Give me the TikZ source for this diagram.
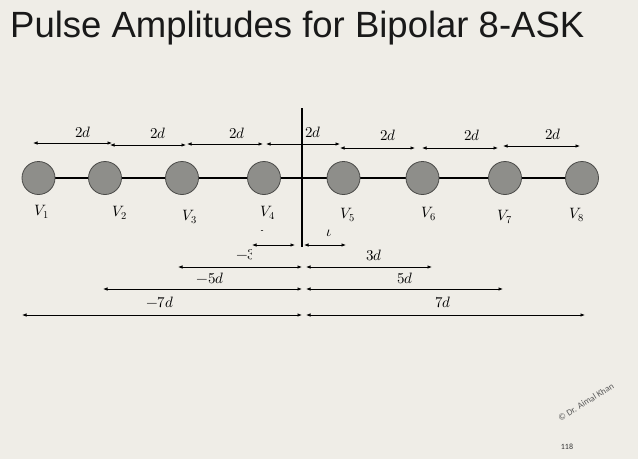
\documentclass[tikz,border=0pt]{standalone}
\usepackage{fontspec}
\setmainfont{Liberation Sans}
\newfontfamily\calib{Carlito}
\usepackage{unicode-math}
\usetikzlibrary{arrows.meta}
\definecolor{bgc}{HTML}{EFEDE7}
\definecolor{dotfill}{HTML}{8E8E8A}
\definecolor{dotline}{HTML}{4A4A48}
\tikzset{
  dot/.style={circle,fill=dotfill,draw=dotline,line width=0.8pt,minimum size=33pt,inner sep=0pt},
  dim/.style={line width=0.7pt,{Latex[length=4.5pt,width=3.5pt]}-{Latex[length=4.5pt,width=3.5pt]}},
  lab/.style={font=\fontsize{15}{17}\selectfont,inner sep=0pt},
}
\begin{document}
\begin{tikzpicture}[x=1pt,y=-1pt]
\fill[bgc] (0,0) rectangle (638,459);
\useasboundingbox (0,0) rectangle (638,459);
% title
\node[anchor=base west,inner sep=0pt,font=\fontsize{36.5}{40}\selectfont,text=black!90] (title) at (10,37) {Pulse Amplitudes for Bipolar 8-ASK};
% axis
\coordinate (axt) at (302,108);
\coordinate (axb) at (302,247);
% baseline
\coordinate (ls) at (38.5,178);
\coordinate (le) at (582,178);
\draw[line width=2.2pt] (ls) -- (le);
\draw[line width=2.2pt] (axt) -- (axb);
% dots
\foreach \n/\x in {1/38.5,2/105,3/182,4/264,5/343.5,6/422.5,7/505,8/582}{
  \node[dot] (v\n) at (\x,178) {};
}
% V labels
\node[lab] (l1) at (42,212) {$V_1$};
\node[lab] (l2) at (120,213) {$V_2$};
\node[lab] (l3) at (190,217) {$V_3$};
\node[lab] (l4) at (268,213) {$V_4$};
\node[lab] (l5) at (348,215) {$V_5$};
\node[lab] (l6) at (429,214) {$V_6$};
\node[lab] (l7) at (505,217) {$V_7$};
\node[lab] (l8) at (577,215) {$V_8$};
% top dimension arrows
\coordinate (t1a) at (33,143);  \coordinate (t1b) at (112,143);
\coordinate (t2a) at (110,145); \coordinate (t2b) at (186,145);
\coordinate (t3a) at (187,144); \coordinate (t3b) at (263,144);
\coordinate (t4a) at (266,144); \coordinate (t4b) at (340,144);
\coordinate (t5a) at (340,148); \coordinate (t5b) at (415,148);
\coordinate (t6a) at (422,148); \coordinate (t6b) at (498,148);
\coordinate (t7a) at (503,146); \coordinate (t7b) at (580,146);
\foreach \i in {1,...,7}{ \draw[dim] (t\i a) -- (t\i b); }
\node[lab] (d1) at (83,132) {$2d$};
\node[lab] (d2) at (158,133) {$2d$};
\node[lab] (d3) at (237,133) {$2d$};
\node[lab] (d4) at (313,132) {$2d$};
\node[lab] (d5) at (388,135) {$2d$};
\node[lab] (d6) at (472,135) {$2d$};
\node[lab] (d7) at (553,134) {$2d$};
% bottom arrows
\coordinate (c1) at (295,245); \coordinate (s1l) at (252,245);
\coordinate (c2) at (304,245); \coordinate (s1r) at (346,245);
\draw[dim] (s1l) -- (c1);
\draw[dim] (c2) -- (s1r);
\coordinate (b3l) at (178,267); \coordinate (b3c) at (302,267);
\coordinate (b3d) at (306,267); \coordinate (b3r) at (432,267);
\draw[dim] (b3l) -- (b3c); \draw[dim] (b3d) -- (b3r);
\coordinate (b5l) at (103,289); \coordinate (b5c) at (302,289);
\coordinate (b5d) at (306,289); \coordinate (b5r) at (503,289);
\draw[dim] (b5l) -- (b5c); \draw[dim] (b5d) -- (b5r);
\coordinate (b7l) at (22,315); \coordinate (b7c) at (302,315);
\coordinate (b7d) at (306,315); \coordinate (b7r) at (585,315);
\draw[dim] (b7l) -- (b7c); \draw[dim] (b7d) -- (b7r);
% bottom labels
\node[lab,font=\fontsize{9}{9}\selectfont] (f1) at (262,232) {-};
\node[lab] (f2) at (329,233) {$\iota$};
\begin{scope}
\clip (230,246) rectangle (251.5,263);
\node[lab,anchor=west] (f3) at (236,255) {$-3$};
\end{scope}
\node[lab] (e3) at (374,255) {$3d$};
\node[lab] (m5) at (210,278) {$-5d$};
\node[lab] (p5) at (405,278) {$5d$};
\node[lab] (m7) at (160,302) {$-7d$};
\node[lab] (p7) at (443,302) {$7d$};
% watermark and page number
\node[rotate=32,font=\calib\fontsize{9}{9}\selectfont,text=black!65,inner sep=0pt] (wm) at (586,402) {© Dr. Aimal Khan};
\node[font=\calib\fontsize{8}{8}\selectfont,text=black!80,inner sep=0pt] (pg) at (567,447) {118};
\end{tikzpicture}
\end{document}
